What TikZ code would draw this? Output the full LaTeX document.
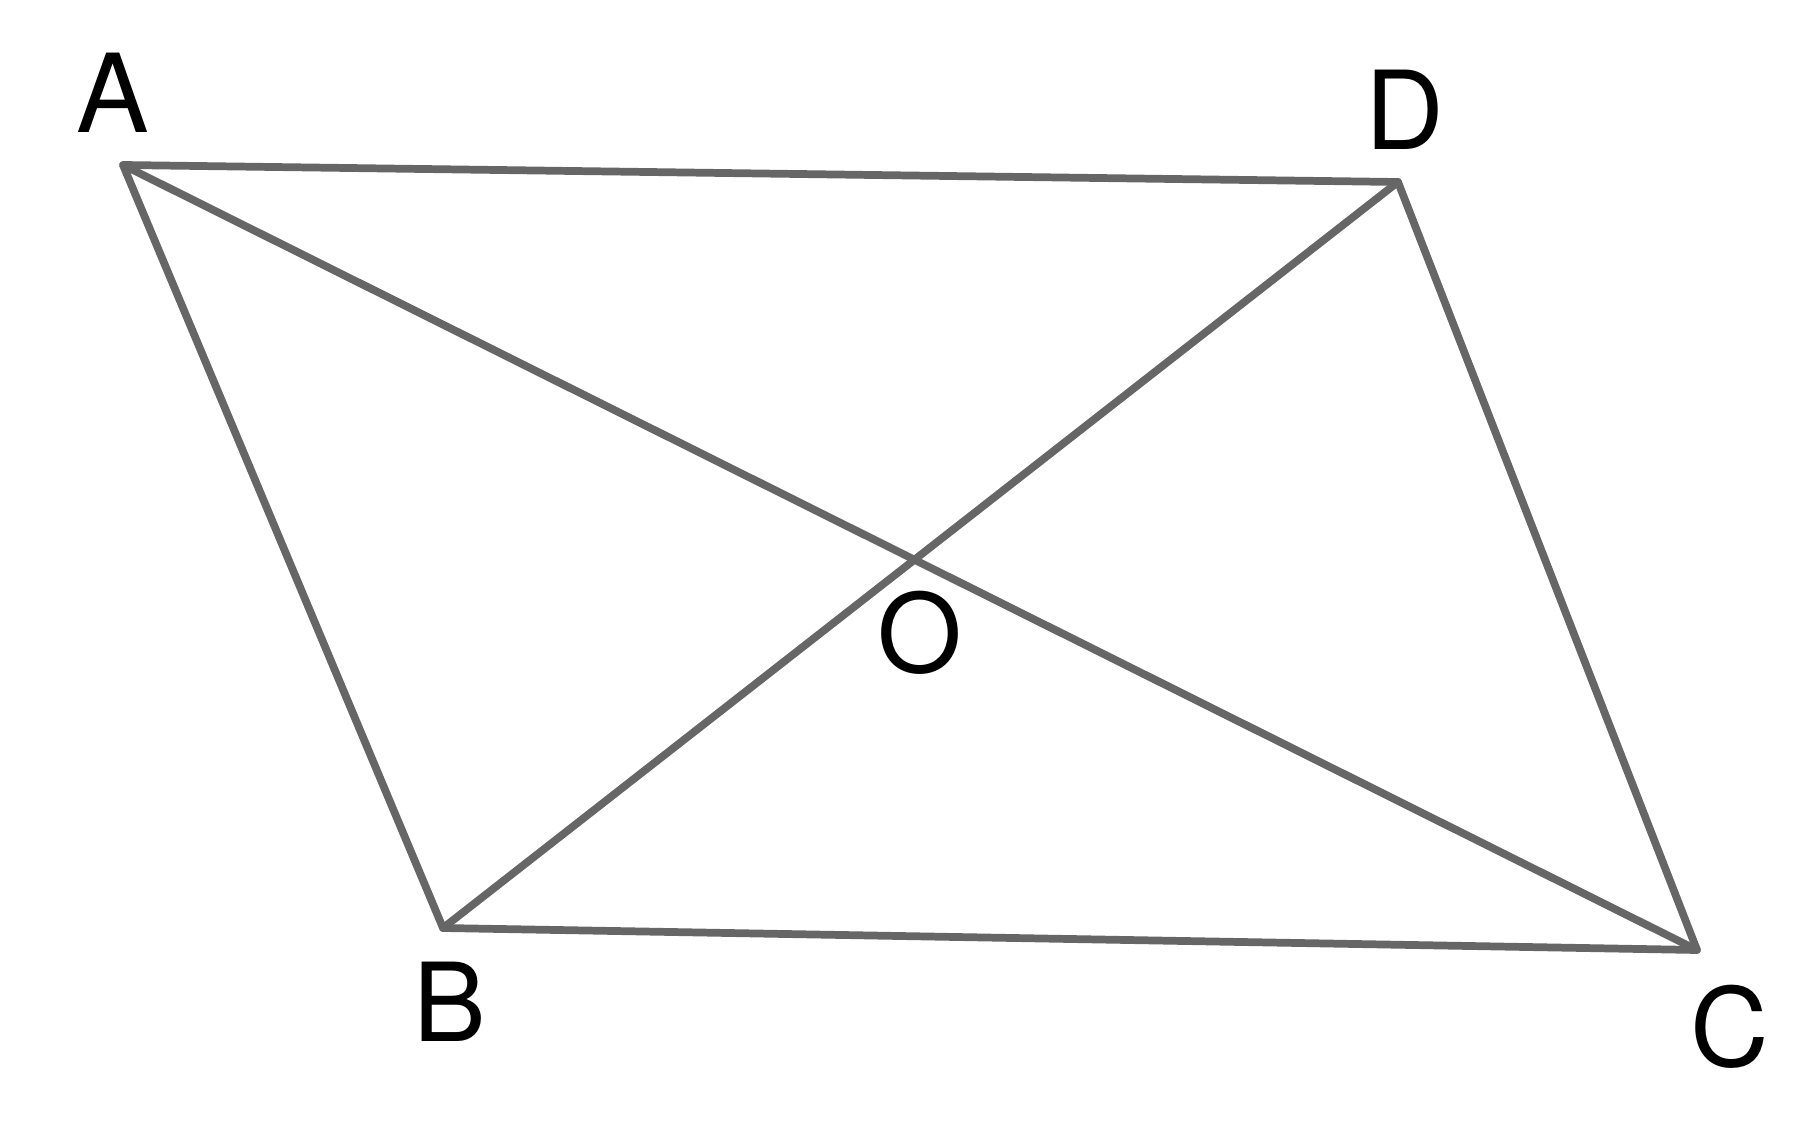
\documentclass[tikz,border=0pt]{standalone}
\usepackage{fontspec}
\setmainfont{TeX Gyre Heros}

\begin{document}
\begin{tikzpicture}[
	edge/.style={line width=2.2pt, color=black!60, line join=round, line cap=round},
	vlabel/.style={font=\fontsize{31}{37}\selectfont, text=black, inner sep=0pt}
]
	\useasboundingbox (0,0) rectangle (18.06,11.22);
	\coordinate (A) at (1.23,9.57);
	\coordinate (D) at (13.98,9.40);
	\coordinate (B) at (4.43,1.94);
	\coordinate (C) at (16.97,1.72);
	\coordinate (O) at (intersection of A--C and B--D);
	\draw[edge] (A)--(D)--(C)--(B)--cycle;
	\draw[edge] (A)--(C);
	\draw[edge] (B)--(D);
	\node[vlabel] (lA) at (1.13,10.29) {A};
	\node[vlabel] (lD) at (14.05,10.12) {D};
	\node[vlabel] (lB) at (4.50,1.20) {B};
	\node[vlabel] (lC) at (17.30,0.95) {C};
	\node[vlabel] (lO) at (9.20,4.89) {O};
\end{tikzpicture}
\end{document}
